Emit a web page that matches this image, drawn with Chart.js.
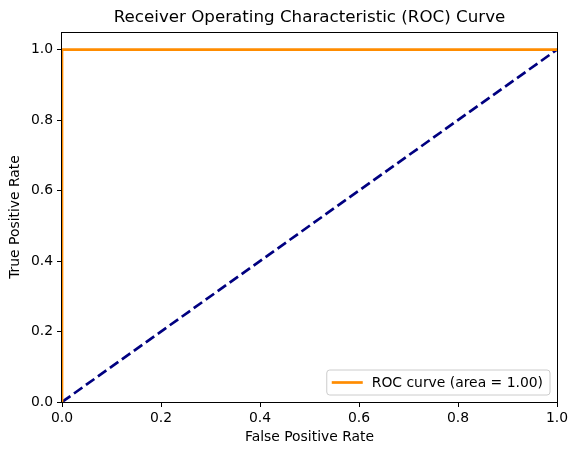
<!DOCTYPE html>
<html>
<head>
<meta charset="utf-8">
<script src="https://cdn.jsdelivr.net/npm/chart.js@4"></script>
<style>
  html, body { margin: 0; padding: 0; background: #fff; }
  #wrap { width: 578px; height: 455px; }
</style>
</head>
<body>
<div id="wrap"><canvas id="roc" width="578" height="455"></canvas></div>
<script>
// data
const fpr = [0.0, 0.0, 1.0];
const tpr = [0.0, 1.0, 1.0];
const chanceX = [0.0, 1.0];
const chanceY = [0.0, 1.0];
const xTicks = [0.0, 0.2, 0.4, 0.6, 0.8, 1.0];
const yTicks = [0.0, 0.2, 0.4, 0.6, 0.8, 1.0];
const rocLabel = 'ROC curve (area = 1.00)';
const titleText = 'Receiver Operating Characteristic (ROC) Curve';

const FONT = 'DejaVu Sans';

function toPoints(xs, ys) {
  return xs.map((x, i) => ({ x: x, y: ys[i] }));
}

// axes frame, title and legend drawn the matplotlib way
const mplLook = {
  id: 'mplLook',
  afterDatasetsDraw(chart) {
    const ctx = chart.ctx;
    const a = chart.chartArea;
    const l = Math.round(a.left) - 0.5;
    const t = Math.round(a.top) + 0.5;
    const r = Math.round(a.right) + 0.5;
    const b = Math.round(a.bottom) + 0.5;
    ctx.save();
    ctx.strokeStyle = '#000';
    ctx.lineWidth = 1;
    ctx.strokeRect(l, t, r - l, b - t);

    // title centred over the axes
    ctx.fillStyle = '#000';
    ctx.font = '16.7px "' + FONT + '"';
    ctx.textAlign = 'center';
    ctx.textBaseline = 'middle';
    ctx.fillText(titleText, (a.left + a.right) / 2, 18);

    // legend, lower right inside the axes
    const ds = chart.data.datasets[0];
    ctx.font = '13.9px "' + FONT + '"';
    const tw = ctx.measureText(ds.label).width;
    const bw = tw + 52, bh = 25;
    const bx = a.right - 7 - bw, by = a.bottom - 7 - bh;
    ctx.beginPath();
    ctx.roundRect(bx, by, bw, bh, 3);
    ctx.fillStyle = 'rgba(255,255,255,0.8)';
    ctx.fill();
    ctx.strokeStyle = '#cccccc';
    ctx.lineWidth = 1;
    ctx.stroke();
    ctx.beginPath();
    ctx.moveTo(bx + 5, by + bh / 2);
    ctx.lineTo(bx + 36, by + bh / 2);
    ctx.strokeStyle = ds.borderColor;
    ctx.lineWidth = ds.borderWidth;
    ctx.stroke();
    ctx.fillStyle = '#000';
    ctx.textAlign = 'left';
    ctx.fillText(ds.label, bx + 45, by + bh / 2 + 1);
    ctx.restore();
  }
};

new Chart(document.getElementById('roc'), {
  type: 'scatter',
  data: {
    datasets: [
      {
        label: rocLabel,
        data: toPoints(fpr, tpr),
        showLine: true,
        borderColor: '#ff8c00',
        borderWidth: 2.7,
        pointRadius: 0,
        clip: 0,
        order: 1
      },
      {
        label: 'chance',
        data: toPoints(chanceX, chanceY),
        showLine: true,
        borderColor: '#000080',
        borderWidth: 2.7,
        borderDash: [10.3, 4.4],
        pointRadius: 0,
        clip: 0,
        order: 2
      }
    ]
  },
  plugins: [mplLook],
  options: {
    responsive: false,
    animation: false,
    layout: { padding: { top: 32, right: 21, left: 0, bottom: 0 } },
    plugins: {
      legend: { display: false },
      title: { display: false },
      tooltip: { enabled: false }
    },
    scales: {
      x: {
        type: 'linear',
        min: 0,
        max: 1,
        afterFit(s) { s.height = 53; },
        afterBuildTicks(s) { s.ticks = xTicks.map(v => ({ value: v })); },
        border: { display: false },
        grid: { drawOnChartArea: false, drawTicks: true, tickLength: 5, color: '#000' },
        ticks: {
          color: '#000',
          padding: 3,
          maxRotation: 0,
          font: { family: FONT, size: 13.9 },
          callback: v => v.toFixed(1)
        },
        title: {
          display: true,
          text: 'False Positive Rate',
          color: '#000',
          font: { family: FONT, size: 13.9 },
          padding: { top: 0, bottom: 9.7 }
        }
      },
      y: {
        type: 'linear',
        min: 0,
        max: 1.05,
        afterFit(s) { s.width = 62; },
        afterBuildTicks(s) { s.ticks = yTicks.map(v => ({ value: v })); },
        border: { display: false },
        grid: { drawOnChartArea: false, drawTicks: true, tickLength: 5, color: '#000' },
        ticks: {
          color: '#000',
          padding: 4,
          font: { family: FONT, size: 13.9 },
          callback: v => v.toFixed(1)
        },
        title: {
          display: true,
          text: 'True Positive Rate',
          color: '#000',
          font: { family: FONT, size: 13.9 },
          padding: { top: 6.7, bottom: 0 }
        }
      }
    }
  }
});
</script>
</body>
</html>
